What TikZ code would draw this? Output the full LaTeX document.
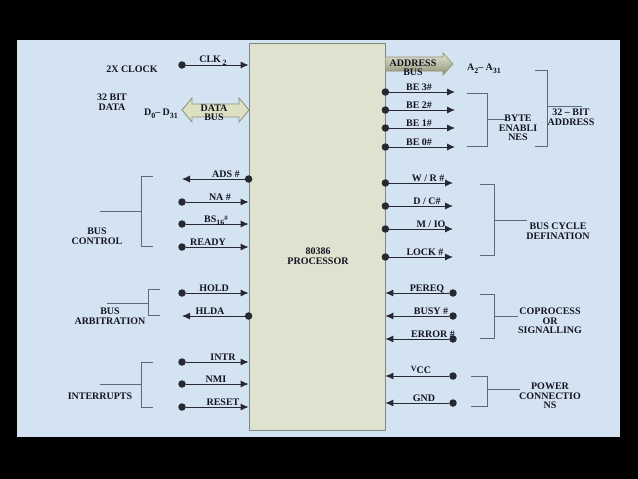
\documentclass[tikz,border=0pt]{standalone}
\usepackage{fontspec}
\setmainfont{Liberation Serif}
\usetikzlibrary{arrows.meta}
\definecolor{panel}{RGB}{212,227,241}
\definecolor{cpufill}{RGB}{222,226,207}
\definecolor{cpuedge}{RGB}{130,135,120}
\definecolor{txt}{RGB}{20,20,35}
\definecolor{brk}{RGB}{90,105,125}
\definecolor{wire}{RGB}{40,40,50}
\definecolor{busfill}{RGB}{222,224,196}
\definecolor{busedge}{RGB}{140,145,120}
\newcommand{\lowsub}[1]{\raisebox{-3pt}{\fontsize{8}{8}\selectfont #1}}
\begin{document}
\begin{tikzpicture}[x=1pt,y=-1pt,
  every node/.style={font=\bfseries\fontsize{10}{9.5}\selectfont, text=txt, inner sep=0pt, align=center},
  dot/.style={circle, fill=wire, minimum size=7.5pt, inner sep=0pt},
  sig/.style={draw=wire, line width=0.9pt},
  tip/.style={-{Latex[length=8pt,width=7pt]}},
  brack/.style={draw=brk, line width=0.9pt},
  lbl/.style={anchor=base},
]
\fill[black] (0,0) rectangle (638,479);
\fill[panel] (17,40) rectangle (620,437);
\useasboundingbox (0,0) rectangle (638,479);

% processor
\node[draw=cpuedge, fill=cpufill, line width=0.8pt, minimum width=136pt, minimum height=387pt] (cpu) at (317,236.5) {};
\node (cpulbl) at (318,256) {80386\\PROCESSOR};

% ---------- left side ----------
\node (clock) at (132,69) {2X CLOCK};
\node[dot] (clkD) at (182,65) {};
\draw[sig,tip] (clkD) -- (clkD -| cpu.west);
\node[lbl] (clkL) at (213,62.5) {CLK\,\lowsub{2}};

\node (data32) at (112,102) {32 BIT\\DATA};
\node (dlbl) at (161,114) {D\lowsub{0}– D\lowsub{31}};
\draw[fill=busfill, draw=busedge, line width=0.8pt]
  (182,110) -- (192,98) -- (192,104) -- (239,104) -- (239,98) -- (249,110)
  -- (239,122) -- (239,117) -- (192,117) -- (192,122) -- cycle;
\node (databus) at (214,112.5) {DATA\\BUS};

\node[dot] (adsD) at (cpu.west |- 0,179) {};
\coordinate (adsE) at (182,179);
\draw[sig,tip] (adsD) -- (adsE);
\node[lbl] (adsL) at (226,177) {ADS \#};

\node[dot] (naD) at (182,202) {};
\draw[sig,tip] (naD) -- (naD -| cpu.west);
\node[lbl] (naL) at (220,200) {NA \#};

\node[dot] (bsD) at (182,224) {};
\draw[sig,tip] (bsD) -- (bsD -| cpu.west);
\node[lbl] (bsL) at (216,222) {BS\lowsub{16}\raisebox{2pt}{\fontsize{7}{7}\selectfont\#}};

\node[dot] (rdyD) at (182,247) {};
\draw[sig,tip] (rdyD) -- (rdyD -| cpu.west);
\node[lbl] (rdyL) at (208,245) {READY};

\node[dot] (holdD) at (182,293) {};
\draw[sig,tip] (holdD) -- (holdD -| cpu.west);
\node[lbl] (holdL) at (214,291) {HOLD};

\node[dot] (hldaD) at (cpu.west |- 0,316) {};
\coordinate (hldaE) at (182,316);
\draw[sig,tip] (hldaD) -- (hldaE);
\node[lbl] (hldaL) at (210,314) {HLDA};

\node[dot] (intrD) at (182,362) {};
\draw[sig,tip] (intrD) -- (intrD -| cpu.west);
\node[lbl] (intrL) at (223,360) {INTR};

\node[dot] (nmiD) at (182,384) {};
\draw[sig,tip] (nmiD) -- (nmiD -| cpu.west);
\node[lbl] (nmiL) at (216,382) {NMI};

\node[dot] (rstD) at (182,407) {};
\draw[sig,tip] (rstD) -- (rstD -| cpu.west);
\node[lbl] (rstL) at (223,405) {RESET};

% left brackets
\draw[brack] (153,176) -- (141,176) -- (141,246) -- (153,246);
\draw[brack] (141,211) -- (100,211);
\node (busctl) at (97,236) {BUS\\CONTROL};

\draw[brack] (160,289) -- (148,289) -- (148,315) -- (160,315);
\draw[brack] (148,303) -- (107,303);
\node (busarb) at (110,316) {BUS\\ARBITRATION};

\draw[brack] (153,362) -- (141,362) -- (141,407) -- (153,407);
\draw[brack] (141,384) -- (100,384);
\node (intr) at (100,396) {INTERRUPTS};

% ---------- right side ----------
\draw[top color=busfill!80!white, bottom color=busedge, draw=busedge, line width=0.6pt]
  (cpu.east |- 0,57) -- (443,57) -- (443,53) -- (453,64) -- (443,75) -- (443,71)
  -- (cpu.east |- 0,71) -- cycle;
\node (addrbus) at (413,67.5) {ADDRESS\\BUS};
\node (alab) at (484,69) {A\lowsub{2}– A\lowsub{31}};

\node[dot] (be3D) at (cpu.east |- 0,92) {};
\coordinate (be3E) at (455,92);
\draw[sig,tip] (be3D) -- (be3E);
\node[lbl] (be3L) at (419,90) {BE 3\#};

\node[dot] (be2D) at (cpu.east |- 0,110) {};
\coordinate (be2E) at (455,110);
\draw[sig,tip] (be2D) -- (be2E);
\node[lbl] (be2L) at (419,108) {BE 2\#};

\node[dot] (be1D) at (cpu.east |- 0,128) {};
\coordinate (be1E) at (455,128);
\draw[sig,tip] (be1D) -- (be1E);
\node[lbl] (be1L) at (419,126) {BE 1\#};

\node[dot] (be0D) at (cpu.east |- 0,147) {};
\coordinate (be0E) at (455,147);
\draw[sig,tip] (be0D) -- (be0E);
\node[lbl] (be0L) at (419,145) {BE 0\#};

\draw[brack] (467,93) -- (487,93) -- (487,146) -- (467,146);
\draw[brack] (487,119) -- (507,119);
\node (byteen) at (518,128) {BYTE\\ENABLI\\NES};

\draw[brack] (535,70) -- (547,70) -- (547,146) -- (535,146);
\draw[brack] (547,106) -- (582,106);
\node (addr32) at (571,117) {32 – BIT\\ADDRESS};

\node[dot] (wrD) at (cpu.east |- 0,183) {};
\coordinate (wrE) at (453,183);
\draw[sig,tip] (wrD) -- (wrE);
\node[lbl] (wrL) at (428,181) {W / R \#};

\node[dot] (dcD) at (cpu.east |- 0,206) {};
\coordinate (dcE) at (453,206);
\draw[sig,tip] (dcD) -- (dcE);
\node[lbl] (dcL) at (427,204) {D / C\#};

\node[dot] (mioD) at (cpu.east |- 0,229) {};
\coordinate (mioE) at (453,229);
\draw[sig,tip] (mioD) -- (mioE);
\node[lbl] (mioL) at (431,227) {M / IO};

\node[dot] (lockD) at (cpu.east |- 0,257) {};
\coordinate (lockE) at (453,257);
\draw[sig,tip] (lockD) -- (lockE);
\node[lbl] (lockL) at (425,255) {LOCK \#};

\draw[brack] (480,184) -- (494,184) -- (494,255) -- (480,255);
\draw[brack] (494,220) -- (527,220);
\node (buscyc) at (558,231) {BUS CYCLE\\DEFINATION};

\node[dot] (peD) at (453,293) {};
\draw[sig,tip] (peD) -- (peD -| cpu.east);
\node[lbl] (peL) at (427,291) {PEREQ};

\node[dot] (busyD) at (453,316) {};
\draw[sig,tip] (busyD) -- (busyD -| cpu.east);
\node[lbl] (busyL) at (431,314) {BUSY \#};

\node[dot] (errD) at (453,339) {};
\draw[sig,tip] (errD) -- (errD -| cpu.east);
\node[lbl] (errL) at (433,337) {ERROR \#};

\draw[brack] (480,294) -- (494,294) -- (494,338) -- (480,338);
\draw[brack] (494,316) -- (518,316);
\node (copro) at (550,321) {COPROCESS\\OR\\SIGNALLING};

\node[dot] (vccD) at (453,376) {};
\draw[sig,tip] (vccD) -- (vccD -| cpu.east);
\node[lbl] (vccL) at (421,373) {\raisebox{2pt}{\fontsize{8}{8}\selectfont V}CC};

\node[dot] (gndD) at (453,403) {};
\draw[sig,tip] (gndD) -- (gndD -| cpu.east);
\node[lbl] (gndL) at (424,401) {GND};

\draw[brack] (471,376) -- (487,376) -- (487,406) -- (471,406);
\draw[brack] (487,389) -- (520,389);
\node (power) at (550,396) {POWER\\CONNECTIO\\NS};
\end{tikzpicture}
\end{document}
